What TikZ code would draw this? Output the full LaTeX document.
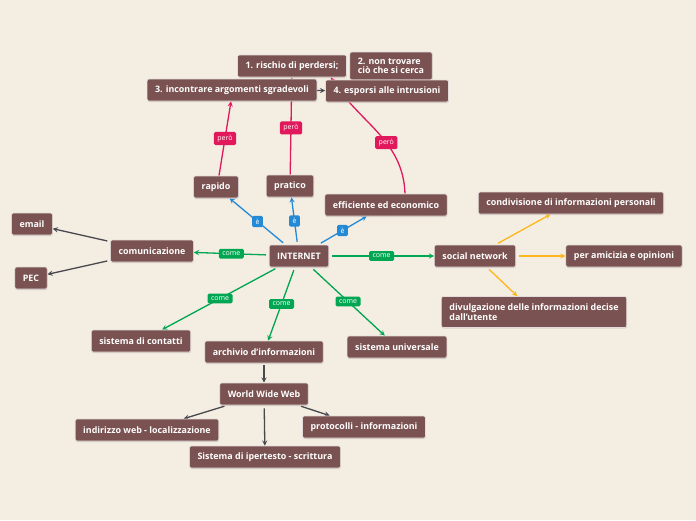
\documentclass[tikz,border=0pt]{standalone}
\usepackage{fontspec}
\setmainfont{Open Sans}
\usetikzlibrary{arrows, shadows}
\definecolor{paper}{RGB}{243,237,226}
\definecolor{brownbox}{RGB}{122,82,81}
\definecolor{comegreen}{RGB}{0,166,81}
\definecolor{eblue}{RGB}{36,138,214}
\definecolor{peropink}{RGB}{226,24,92}
\definecolor{snorange}{RGB}{253,183,27}
\definecolor{darkline}{RGB}{72,72,78}
\pgfdeclarelayer{back}
\pgfsetlayers{back,main}
\tikzstyle{topic} = [rectangle, rounded corners=2pt, draw=white!80!brownbox, line width=0.6pt, fill=brownbox, text=white, font=\fontsize{8.9}{9.6}\selectfont\bfseries, inner xsep=8pt, minimum height=22pt, align=left, drop shadow={shadow xshift=0.4pt, shadow yshift=-1pt, opacity=0.25}]
\tikzstyle{tag} = [rectangle, rounded corners=1.5pt, text=white, font=\fontsize{7}{8}\selectfont, inner xsep=3.5pt, inner ysep=3pt]
\tikzstyle{arrow} = [line width=1.3pt,->,>=stealth]

\begin{document}
\begin{tikzpicture}[x=1pt, y=-1pt]
    \useasboundingbox (0,0) rectangle (696,520);
    \begin{pgfonlayer}{back}
        \fill [paper] (0,0) rectangle (696,520);
    \end{pgfonlayer}

    \node (internet) [topic] at (299,256) {INTERNET};
    \node (comunic) [topic] at (152,251) {comunicazione};
    \node (email) [topic] at (32,224) {email};
    \node (pec) [topic] at (31,278) {PEC};
    \node (rapido) [topic] at (216,187) {rapido};
    \node (pratico) [topic] at (290,186) {pratico};
    \node (efficiente) [topic] at (386,205) {efficiente ed economico};
    \node (rischio1) [topic] at (292,66) {1. rischio di perdersi;};
    \node (sgrad3) [topic] at (232,90) {3. incontrare argomenti sgradevoli};
    \node (cerca2) [topic, minimum height=28pt] at (391,66) {2. non trovare\\ciò che si cerca};
    \node (intrus4) [topic] at (387,91) {4. esporsi alle intrusioni};
    \node (social) [topic] at (475,256) {social network};
    \node (condiv) [topic] at (571,203) {condivisione di informazioni personali};
    \node (amicizia) [topic] at (624,256) {per amicizia e opinioni};
    \node (divulg) [topic, minimum height=31pt] at (534,312) {divulgazione delle informazioni decise\\dall'utente};
    \node (contatti) [topic] at (141,341) {sistema di contatti};
    \node (archivio) [topic] at (264,352) {archivio d'informazioni};
    \node (universale) [topic] at (397,347) {sistema universale};
    \node (www) [topic] at (264,394) {World Wide Web};
    \node (indirizzo) [topic] at (147,430) {indirizzo web - localizzazione};
    \node (protocolli) [topic] at (364,427) {protocolli - informazioni};
    \node (ipertesto) [topic] at (265,457) {Sistema di ipertesto - scrittura};

    \begin{pgfonlayer}{back}
    % come
    \draw [arrow, comegreen, shorten <=3pt] (internet) -- node[tag, fill=comegreen] {come} (comunic);
    \draw [arrow, comegreen, shorten <=3pt] (internet) -- node[tag, fill=comegreen] {come} (social);
    \draw [arrow, comegreen, shorten <=3pt] (internet) -- node[tag, fill=comegreen] {come} (contatti);
    \draw [arrow, comegreen, shorten <=3pt] (internet) -- node[tag, fill=comegreen] {come} (archivio);
    \draw [arrow, comegreen, shorten <=3pt] (internet) -- node[tag, fill=comegreen] {come} (universale);
    % è
    \draw [arrow, eblue, shorten <=3pt] (internet) -- node[tag, fill=eblue] {è} (rapido);
    \draw [arrow, eblue, shorten <=3pt] (internet) -- node[tag, fill=eblue] {è} (pratico);
    \draw [arrow, eblue, shorten <=3pt] (internet) -- node[tag, fill=eblue] {è} (efficiente);
    % però
    \draw [arrow, peropink] ([xshift=3pt]rapido.north) -- node[tag, fill=peropink] {però} ([xshift=-1pt]sgrad3.south);
    \draw [arrow, peropink] (pratico) -- node[tag, fill=peropink, pos=0.48] {però} (rischio1);
    \draw [arrow, peropink] ([xshift=19pt]efficiente.north) to[out=92, in=-58] node[tag, fill=peropink, pos=0.4] {però} ([xshift=-16pt]rischio1.south east);
    \draw [arrow, darkline] (sgrad3) -- (intrus4);
    % comunicazione
    \draw [arrow, darkline, shorten <=3pt] (comunic) -- (email);
    \draw [arrow, darkline, shorten <=3pt] (comunic) -- (pec);
    % social network
    \draw [arrow, snorange, shorten <=3pt] (social) -- (condiv);
    \draw [arrow, snorange, shorten <=3pt] (social) -- (amicizia);
    \draw [arrow, snorange, shorten <=3pt] (social) -- (divulg);
    % web
    \draw [arrow, darkline, shorten <=2pt] (archivio) -- (www);
    \draw [arrow, darkline, shorten <=3pt] (www) -- (indirizzo);
    \draw [arrow, darkline, shorten <=3pt] (www) -- (ipertesto);
    \draw [arrow, darkline, shorten <=3pt] (www) -- (protocolli);
    \end{pgfonlayer}
\end{tikzpicture}
\end{document}
